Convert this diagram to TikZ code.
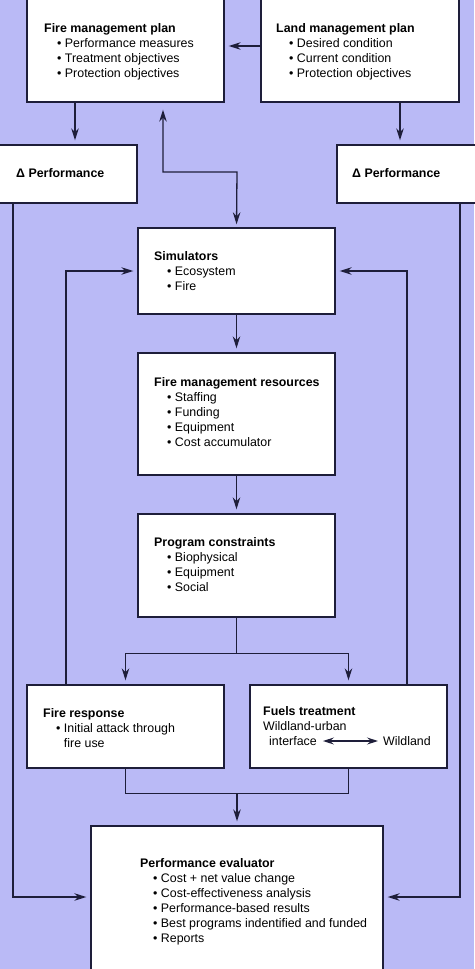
\documentclass[tikz,border=0pt]{standalone}
\usepackage{fontspec}
\setmainfont{Liberation Sans}
\usetikzlibrary{arrows.meta}
\usetikzlibrary{fit}

\definecolor{bgblue}{RGB}{186,186,246}
\definecolor{ink}{RGB}{30,30,58}

\newcommand{\itm}[1]{\hspace*{13pt}\textbullet\ #1}

\begin{document}
\begin{tikzpicture}[x=1pt,y=-1pt,
    box/.style={draw=ink,line width=1.4pt,fill=white,inner sep=0pt},
    txt/.style={anchor=north west,align=left,inner sep=0pt,font=\fontsize{12.4}{15}\selectfont},
    lbl/.style={anchor=west,inner sep=0pt,font=\fontsize{12.4}{15}\selectfont},
    arr/.style={draw=ink,line width=1.3pt,-{Stealth[length=12pt,width=7.5pt,inset=4pt]},shorten >=4pt},
    arrtwo/.style={draw=ink,line width=1.3pt,{Stealth[length=12pt,width=7.5pt,inset=4pt]}-{Stealth[length=12pt,width=7.5pt,inset=4pt]},shorten >=3pt,shorten <=7pt},
    line/.style={draw=ink,line width=1.3pt}]
    \fill[bgblue] (0,0) rectangle (474,969);
    \useasboundingbox (0,0) rectangle (474,969);

    % boxes
    \node[box,fit={(27,-10) (224,102)}] (fmp) {};
    \node[box,fit={(261,-10) (459,102)}] (lmp) {};
    \node[box,fit={(-10,145) (137,203)}] (dpl) {};
    \node[box,fit={(337,145) (484,203)}] (dpr) {};
    \node[box,fit={(138,228) (335,314)}] (sim) {};
    \node[box,fit={(138,353) (335,475)}] (fmr) {};
    \node[box,fit={(138,514) (335,617)}] (pc) {};
    \node[box,fit={(27,685) (224,768)}] (fr) {};
    \node[box,fit={(250,685) (447,768)}] (ft) {};
    \node[box,fit={(91,826) (383,1000)}] (pe) {};

    % texts
    \node[txt] (fmpt) at (44,23) {\textbf{Fire management plan}\\\itm{Performance measures}\\\itm{Treatment objectives}\\\itm{Protection objectives}};
    \node[txt] (lmpt) at (276,23) {\textbf{Land management plan}\\\itm{Desired condition}\\\itm{Current condition}\\\itm{Protection objectives}};
    \node[lbl] (dplt) at (16,173) {\textbf{Δ Performance}};
    \node[lbl] (dprt) at (352,173) {\textbf{Δ Performance}};
    \node[txt] (simt) at (154,251) {\textbf{Simulators}\\\itm{Ecosystem}\\\itm{Fire}};
    \node[txt] (fmrt) at (154,377) {\textbf{Fire management resources}\\\itm{Staffing}\\\itm{Funding}\\\itm{Equipment}\\\itm{Cost accumulator}};
    \node[txt] (pct) at (154,537) {\textbf{Program constraints}\\\itm{Biophysical}\\\itm{Equipment}\\\itm{Social}};
    \node[txt] (frt) at (43,708) {\textbf{Fire response}\\\itm{Initial attack through}\\\hspace*{13pt}\phantom{\textbullet\ }fire use};
    \node[txt] (ftt) at (263,706) {\textbf{Fuels treatment}\\Wildland-urban};
    \node[lbl] (intf) at (269,741) {interface};
    \node[lbl] (wild) at (383,741) {Wildland};
    \node[txt] (pet) at (140,858) {\textbf{Performance evaluator}\\\itm{Cost + net value change}\\\itm{Cost-effectiveness analysis}\\\itm{Performance-based results}\\\itm{Best programs indentified and funded}\\\itm{Reports}};

    % connectors
    \draw[arr] (lmp.west) -- (fmp.east);
    \draw[arr] (fmp.south -| 75,0) -- (dpl.north -| 75,0);
    \draw[arr] (lmp.south -| 400,0) -- (dpr.north -| 400,0);
    \draw[arrtwo] (fmp.south -| 163,0) |- (237,172) -- (sim.north);
    \draw[arr] (dpl.south -| 13,0) |- (pe.west |- 0,897);
    \draw[arr] (dpr.south -| 460,0) |- (pe.east |- 0,897);
    \draw[arr] (sim.south) -- (fmr.north);
    \draw[arr] (fmr.south) -- (pc.north);
    \draw[line] (pc.south) -- ++(0,36) coordinate (split);
    \draw[arr] (split) -| (fr.north);
    \draw[arr] (split) -| (ft.north);
    \draw[line] (fr.south) -- ++(0,25) coordinate (join) -| (ft.south);
    \draw[arr] (pe.north |- join) -- (pe.north);
    \draw[arr] (fr.north -| 66,0) |- (sim.west);
    \draw[arr] (ft.north -| 407,0) |- (sim.east);
    \draw[draw=ink,line width=1.1pt,{Stealth[length=11pt,width=7pt,inset=4pt]}-{Stealth[length=11pt,width=7pt,inset=4pt]},shorten <=6pt,shorten >=5pt] (intf) -- (wild);
\end{tikzpicture}
\end{document}
